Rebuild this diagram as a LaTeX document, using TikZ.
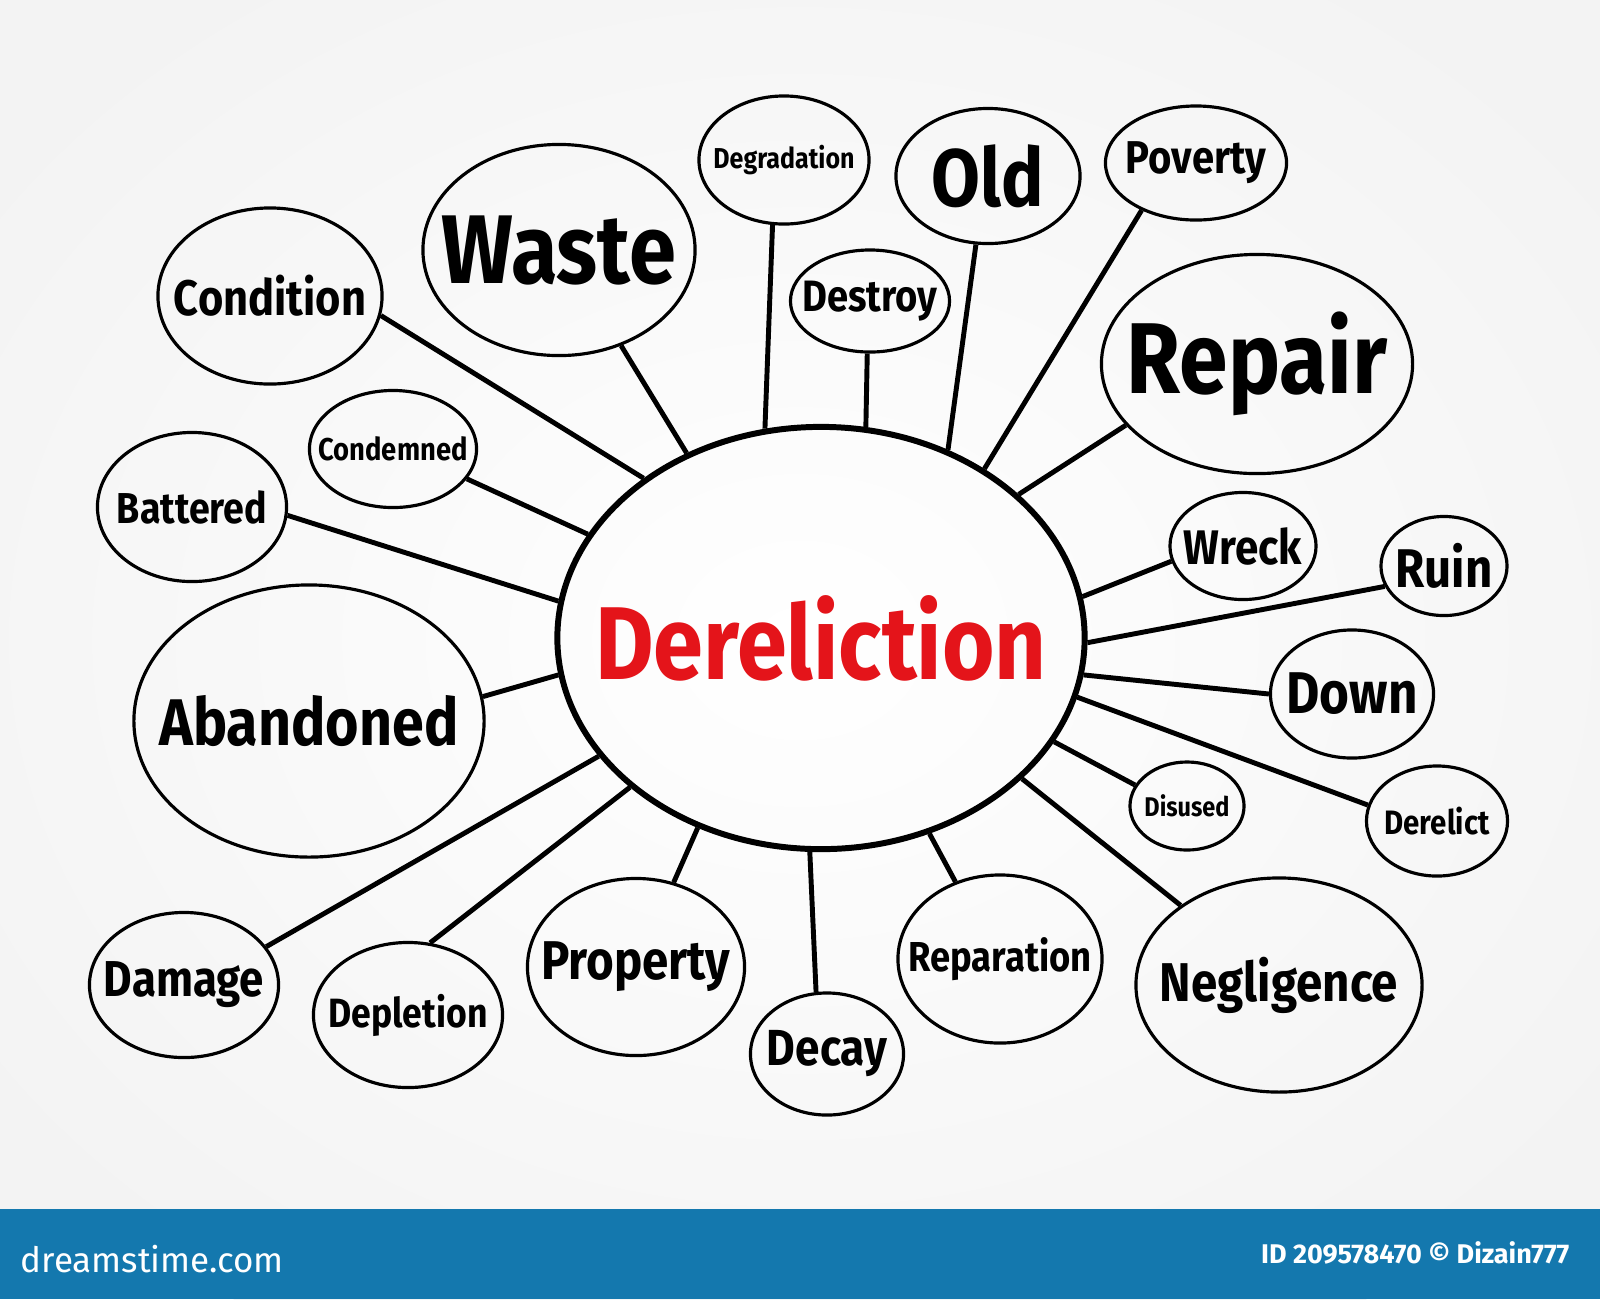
\documentclass[tikz,border=0pt]{standalone}
\usepackage{fontspec}
\setmainfont{Fira Sans}
\usetikzlibrary{shapes.geometric}
\definecolor{derred}{RGB}{228,20,26}
\definecolor{barblue}{RGB}{20,120,174}
\definecolor{paper}{RGB}{243,243,243}
\newcommand{\hand}[2]{\makebox[0pt]{\scalebox{1}[1.15]{\resizebox{#1}{!}{#2}}}}

\begin{document}
\begin{tikzpicture}[x=0.01cm, y=-0.01cm,
    main/.style = {draw, ellipse, line width=0.9pt, inner sep=0pt, font=\bfseries},
    link/.style = {line width=1.4pt}]
    \useasboundingbox (0,0) rectangle (1600,1299);
    \fill[paper] (0,0) rectangle (1600,1209);
    \shade[inner color=white, outer color=paper] (800,640) ellipse (1000 and 800);
    \fill[barblue] (0,1209) rectangle (1600,1299);

    \node[main, line width=1.7pt, minimum width=5.27cm, minimum height=4.22cm, text=derred] (dere) at (821,638) {\hand{4.51cm}{Dereliction}};
    \node[main, minimum width=2.24cm, minimum height=1.76cm] (cond) at (270,296) {\hand{1.92cm}{Condition}};
    \node[main, minimum width=2.72cm, minimum height=2.11cm] (waste) at (559,250) {\hand{2.34cm}{Waste}};
    \node[main, minimum width=1.70cm, minimum height=1.28cm] (degr) at (784,160) {\hand{1.41cm}{Degradation}};
    \node[main, minimum width=1.84cm, minimum height=1.35cm] (old) at (988,176) {\hand{1.12cm}{Old}};
    \node[main, minimum width=1.81cm, minimum height=1.14cm] (pov) at (1196,163) {\hand{1.40cm}{Poverty}};
    \node[main, minimum width=1.59cm, minimum height=1.02cm] (destr) at (870,301) {\hand{1.35cm}{Destroy}};
    \node[main, minimum width=3.11cm, minimum height=2.19cm] (repair) at (1257,364) {\hand{2.60cm}{Repair}};
    \node[main, minimum width=1.67cm, minimum height=1.17cm] (condem) at (393,449) {\hand{1.49cm}{Condemned}};
    \node[main, minimum width=1.89cm, minimum height=1.49cm] (batt) at (192,507) {\hand{1.50cm}{Battered}};
    \node[main, minimum width=1.46cm, minimum height=1.07cm] (wreck) at (1243,546) {\hand{1.18cm}{Wreck}};
    \node[main, minimum width=1.26cm, minimum height=0.99cm] (ruin) at (1444,566) {\hand{0.97cm}{Ruin}};
    \node[main, minimum width=3.50cm, minimum height=2.72cm] (aband) at (309,721) {\hand{2.99cm}{Abandoned}};
    \node[main, minimum width=1.63cm, minimum height=1.28cm] (down) at (1352,694) {\hand{1.31cm}{Down}};
    \node[main, minimum width=1.14cm, minimum height=0.88cm] (disus) at (1187,806) {\hand{0.85cm}{Disused}};
    \node[main, minimum width=1.41cm, minimum height=1.10cm] (derel) at (1437,821) {\hand{1.05cm}{Derelict}};
    \node[main, minimum width=1.89cm, minimum height=1.45cm] (damage) at (184,985) {\hand{1.60cm}{Damage}};
    \node[main, minimum width=1.89cm, minimum height=1.45cm] (depl) at (408,1015) {\hand{1.59cm}{Depletion}};
    \node[main, minimum width=2.17cm, minimum height=1.77cm] (prop) at (636,967) {\hand{1.89cm}{Property}};
    \node[main, minimum width=1.53cm, minimum height=1.22cm] (decay) at (827,1054) {\hand{1.20cm}{Decay}};
    \node[main, minimum width=2.04cm, minimum height=1.68cm] (repar) at (1000,959) {\hand{1.83cm}{Reparation}};
    \node[main, minimum width=2.86cm, minimum height=2.14cm] (negl) at (1279,985) {\hand{2.38cm}{Negligence}};

    \draw[link] (cond.-10) -- (dere.138);
    \draw[link] (waste.-57) -- (dere.126);
    \draw[link] (degr.-100) -- (dere.105);
    \draw[link] (destr.-93) -- (dere.78);
    \draw[link] (old.-100) -- (dere.56);
    \draw[link] (pov.-139) -- (dere.46);
    \draw[link] (repair.-155) -- (dere.36);
    \draw[link] (condem.-22) -- (dere.156);
    \draw[link] (batt.-5) -- (dere.172);
    \draw[link] (aband.8) -- (dere.-172);
    \draw[link] (wreck.-168) -- (dere.9);
    \draw[link] (ruin.-161) -- (dere.-1);
    \draw[link] (down.180) -- (dere.-8);
    \draw[link] (derel.167) -- (dere.-13);
    \draw[link] (disus.158) -- (dere.-24);
    \draw[link] (negl.141) -- (dere.-35);
    \draw[link] (repar.120) -- (dere.-61);
    \draw[link] (decay.100) -- (dere.-93);
    \draw[link] (prop.66) -- (dere.-123);
    \draw[link] (depl.73) -- (dere.-142);
    \draw[link] (damage.25) -- (dere.-152);

    \node[anchor=base west, inner sep=0pt, text=white] (site) at (20,1272) {\resizebox{2.63cm}{!}{dreamstime.com}};
    \node[anchor=base east, inner sep=0pt, text=white, font=\bfseries] (id) at (1570,1263) {\resizebox{3.08cm}{!}{ID 209578470 \textcopyright{} Dizain777}};
\end{tikzpicture}
\end{document}
